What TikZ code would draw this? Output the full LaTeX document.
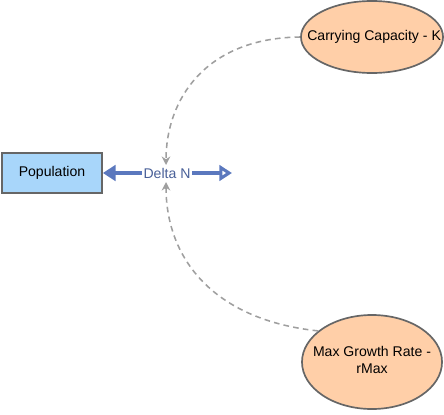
\documentclass[tikz,border=0pt]{standalone}
\usepackage{fontspec}
\setmainfont{Liberation Sans}
\usetikzlibrary{shapes.geometric,arrows.meta}
\definecolor{stockblue}{HTML}{A8D6FA}
\definecolor{auxpeach}{HTML}{FFCFA8}
\definecolor{flowblue}{HTML}{5B78BE}
\definecolor{rimgray}{HTML}{666666}
\begin{document}
\begin{tikzpicture}[x=0.025cm,y=-0.025cm]
        \tikzstyle {stock} = [rectangle, minimum width=2.5cm, minimum height=1cm, text centered, draw=rimgray, line width=1.2pt, fill=stockblue, font=\normalsize]
        \tikzstyle {aux} = [ellipse, inner sep=0pt, text centered, draw=rimgray, line width=1.2pt, fill=auxpeach, font=\normalsize]
        \tikzstyle {flowline} = [draw=flowblue, line width=2.2pt]
        \tikzstyle {link} = [draw=gray!75, dashed, line width=1.1pt, dash pattern=on 4pt off 3pt, -{Stealth[length=6pt,width=6pt]}]
        \useasboundingbox (0,0) rectangle (444,414);
        \node (population) [stock] at (52,173) {Population};
        \node (carrying_cap) [aux, minimum width=3.55cm, minimum height=1.8cm] at (372,37) {\makebox[0pt]{\hspace{0.3em}Carrying Capacity - K}};
        \node (max_growth) [aux, minimum width=3.5cm, minimum height=2.35cm] at (372,362) {\makebox[0pt]{\begin{tabular}{@{}c@{}}Max Growth Rate -\\rMax\end{tabular}}};
        \node (delta_n) [inner sep=1pt, text=flowblue!80!black, font=\normalsize] at (167,173) {Delta N};
        \coordinate (flow_end) at (232,173);
        \draw[flowline, -{Triangle[length=9pt,width=11pt]}] (delta_n.west) -- (population.east);
        \draw[flowline, -{Triangle[open,length=9pt,width=11pt]}] (delta_n.east) -- (flow_end);
        \draw[link] (carrying_cap.west) .. controls (205,38) and (166,100) .. (166,165);
        \draw[link] (max_growth.150) .. controls (215,320) and (166,260) .. (166,182);
\end{tikzpicture}
\end{document}
